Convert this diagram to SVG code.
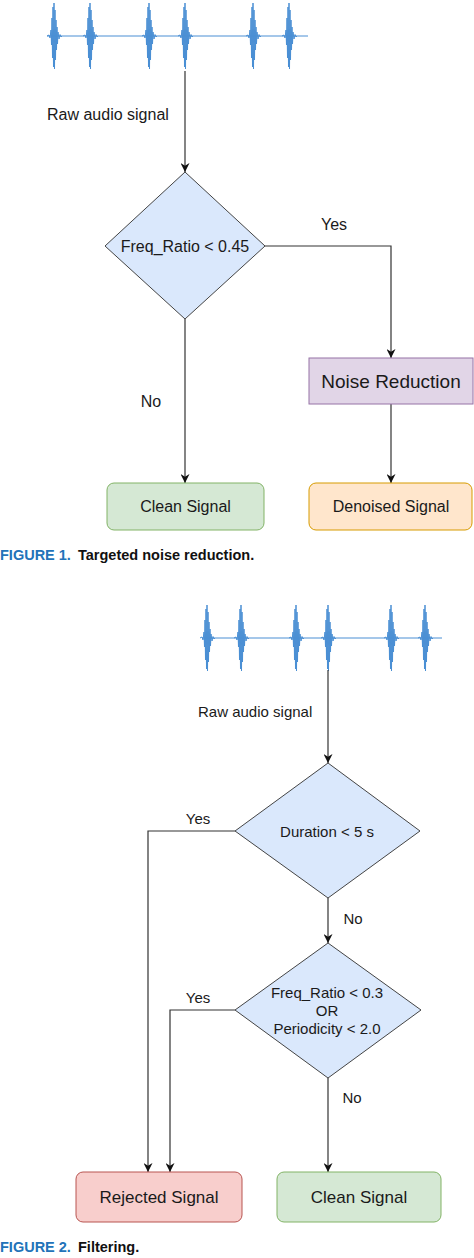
<svg xmlns="http://www.w3.org/2000/svg" xmlns:xlink="http://www.w3.org/1999/xlink" width="474" height="1258" viewBox="0 0 474 1258">
<style>
  .lbl { font-family: "Liberation Sans", Arial, sans-serif; fill: #1a1a1a; }
  .c { text-anchor: middle; }
  .edge { fill: none; stroke: #333; stroke-width: 1.2; }
  .arr { marker-end: url(#ah); }
  .dia { fill: #dae8fc; stroke: #444; stroke-width: 1; }
  .wave { fill: none; stroke: #4a8fd4; stroke-width: 1; }
  .cap { font-family: "Liberation Sans", Arial, sans-serif; font-weight: bold; font-size: 14.5px; }
  .capb { fill: #2273b9; }
</style>
<defs>
  <marker id="ah" viewBox="0 0 10 10" refX="10" refY="5" markerWidth="9" markerHeight="9" markerUnits="userSpaceOnUse" orient="auto">
    <path d="M0,0 L10,5 L0,10 L3,5 z" fill="#111"/>
  </marker>
  <g id="burst">
    <ellipse cx="0.5" cy="0" rx="3.2" ry="7" fill="#4a8fd4" opacity="0.55"/>
    <path class="wave" d="M-7,0 L-5,-1 L-4,2 L-3,-6 L-2.5,9 L-2,-18 L-1.5,22 L-1,-29 L-0.5,31 L0,-33 L0.5,33 L1,-26 L1.5,24 L2,-16 L2.5,14 L3,-9 L3.5,8 L4,-4 L5,3 L6,-1.5 L7,1 L8,0"/>
  </g>
</defs>

<!-- FIGURE 1 -->
<g id="wave1">
  <line x1="47" y1="36" x2="308" y2="36" class="wave"/>
  <use href="#burst" x="54" y="36"/>
  <use href="#burst" x="90" y="36"/>
  <use href="#burst" x="149" y="36"/>
  <use href="#burst" x="185" y="36"/>
  <use href="#burst" x="253" y="36"/>
  <use href="#burst" x="289" y="36"/>
</g>

<g id="connectors1">
  <path class="edge arr" d="M185,71 L185,172"/>
  <path class="edge arr" d="M265,246 L391,246 L391,358"/>
  <path class="edge arr" d="M185,319 L185,483"/>
  <path class="edge arr" d="M391,404 L391,483"/>
  <text class="lbl" x="47" y="120" font-size="16">Raw audio signal</text>
  <text class="lbl c" x="334" y="230" font-size="16">Yes</text>
  <text class="lbl c" x="151" y="407" font-size="16">No</text>
</g>

<g id="d1">
  <polygon class="dia" points="185,172 265,246 185,319 105,246"/>
  <text class="lbl c" x="185" y="252" font-size="16">Freq_Ratio &lt; 0.45</text>
</g>

<g id="noise">
  <rect x="309" y="358" width="164" height="46" fill="#e1d5e7" stroke="#9673a6"/>
  <text class="lbl c" x="391" y="388" font-size="19">Noise Reduction</text>
</g>

<g id="clean1">
  <rect x="107" y="483" width="157" height="47" rx="7" fill="#d5e8d4" stroke="#82b366"/>
  <text class="lbl c" x="185.5" y="512" font-size="16">Clean Signal</text>
</g>

<g id="denoised">
  <rect x="309" y="483" width="163" height="47" rx="7" fill="#ffe6cc" stroke="#d79b00"/>
  <text class="lbl c" x="391" y="512" font-size="16">Denoised Signal</text>
</g>

<g id="caption1">
  <text class="cap" x="0" y="560"><tspan class="capb">FIGURE 1.</tspan><tspan x="78" fill="#111">Targeted noise reduction.</tspan></text>
</g>

<!-- FIGURE 2 -->
<g id="wave2">
  <line x1="202" y1="638" x2="442" y2="638" class="wave"/>
  <use href="#burst" x="207" y="638"/>
  <use href="#burst" x="241" y="638"/>
  <use href="#burst" x="296" y="638"/>
  <use href="#burst" x="328" y="638"/>
  <use href="#burst" x="391" y="638"/>
  <use href="#burst" x="425" y="638"/>
</g>

<g id="connectors2">
  <path class="edge arr" d="M328,670 L328,763"/>
  <path class="edge arr" d="M235,831 L148,831 L148,1172"/>
  <path class="edge arr" d="M328,898 L328,943"/>
  <path class="edge arr" d="M235,1010 L170,1010 L170,1172"/>
  <path class="edge arr" d="M328,1078 L328,1172"/>
  <text class="lbl" x="198" y="717" font-size="15">Raw audio signal</text>
  <text class="lbl c" x="198" y="824" font-size="15">Yes</text>
  <text class="lbl c" x="353" y="924" font-size="15">No</text>
  <text class="lbl c" x="198" y="1003" font-size="15">Yes</text>
  <text class="lbl c" x="352" y="1103" font-size="15">No</text>
</g>

<g id="d2">
  <polygon class="dia" points="328,763 420,831 328,898 235,831"/>
  <text class="lbl c" x="327" y="837" font-size="15">Duration &lt; 5 s</text>
</g>

<g id="d3">
  <polygon class="dia" points="328,943 421,1010 328,1078 235,1010"/>
  <text class="lbl c" x="327" y="998" font-size="15">Freq_Ratio &lt; 0.3</text>
  <text class="lbl c" x="327" y="1016" font-size="15">OR</text>
  <text class="lbl c" x="327" y="1034" font-size="15">Periodicity &lt; 2.0</text>
</g>

<g id="rejected">
  <rect x="76" y="1172" width="166" height="50" rx="7" fill="#f8cecc" stroke="#b85450"/>
  <text class="lbl c" x="159" y="1203" font-size="17">Rejected Signal</text>
</g>

<g id="clean2">
  <rect x="277" y="1172" width="164" height="50" rx="7" fill="#d5e8d4" stroke="#82b366"/>
  <text class="lbl c" x="359" y="1203" font-size="17">Clean Signal</text>
</g>

<g id="caption2">
  <text class="cap" x="0" y="1252"><tspan class="capb">FIGURE 2.</tspan><tspan x="78" fill="#111">Filtering.</tspan></text>
</g>
</svg>
